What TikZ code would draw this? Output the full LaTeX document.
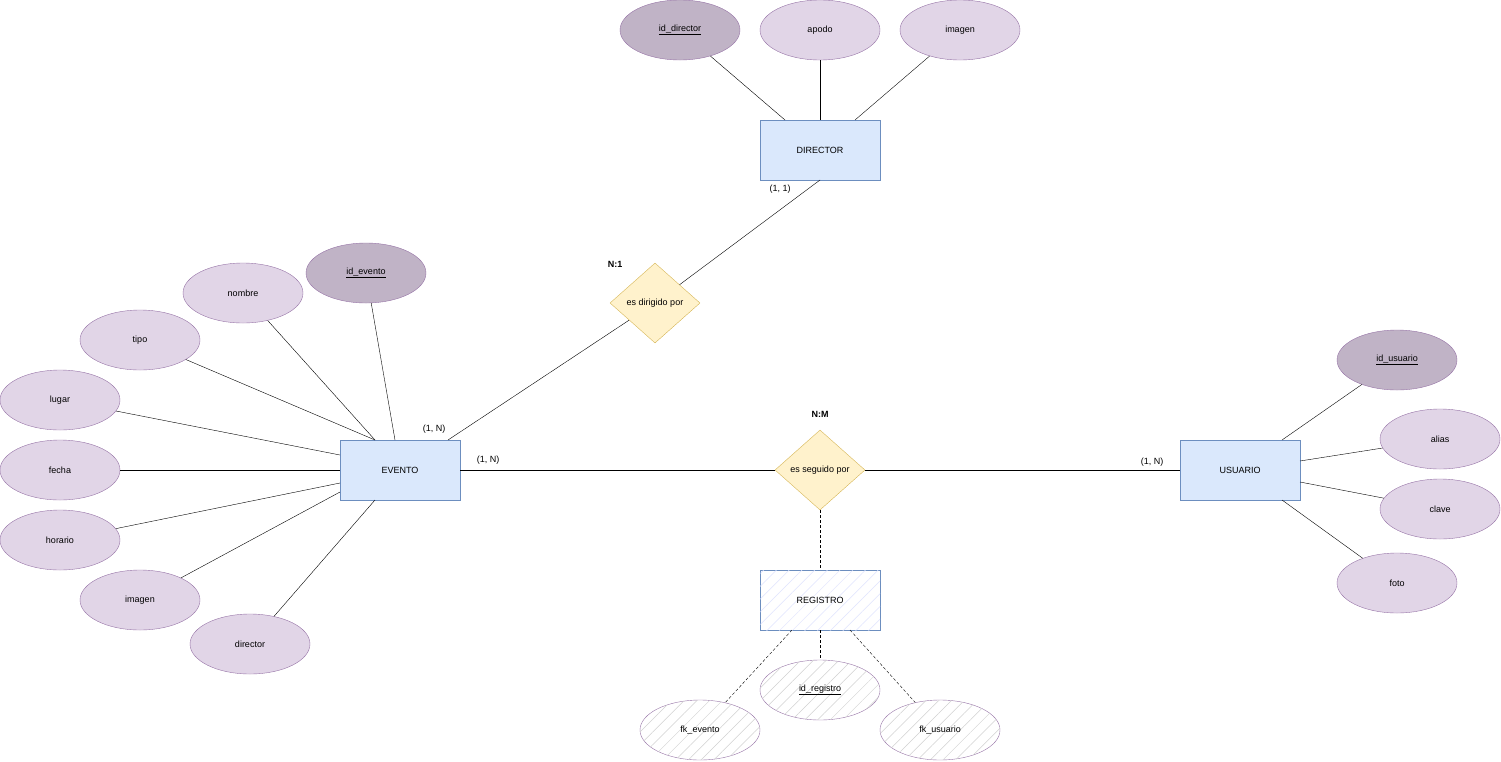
\documentclass[tikz,border=0pt]{standalone}
\usepackage{fontspec}
\setmainfont{Liberation Sans}
\usetikzlibrary{shapes.geometric,patterns.meta}
\definecolor{attrf}{HTML}{E1D5E7}\definecolor{attrd}{HTML}{9673A6}
\definecolor{keyf}{HTML}{C0B3C6}
\definecolor{entf}{HTML}{DAE8FC}\definecolor{entd}{HTML}{6C8EBF}
\definecolor{relf}{HTML}{FFF2CC}\definecolor{reld}{HTML}{D6B656}
\begin{document}
\begin{tikzpicture}[x=1pt,y=-1pt,font=\fontsize{9}{11}\selectfont,
 attr/.style={ellipse,draw=attrd,fill=attrf,minimum width=120pt,minimum height=60pt,inner sep=0pt},
 key/.style={attr,fill=keyf},
 ent/.style={rectangle,draw=entd,fill=entf,minimum width=120pt,minimum height=60pt},
 rel/.style={diamond,draw=reld,fill=relf,minimum width=90pt,minimum height=80pt,inner sep=0pt,aspect=1.1},
 hatch/.style={fill=white,postaction={pattern={Lines[angle=45,distance=9pt,line width=0.5pt]},pattern color=#1}},
 weakattr/.style={attr,hatch=black!18},
 weakent/.style={ent,hatch=entf!80!blue!40},
 ln/.style={draw=black},
 dl/.style={draw=black,densely dashed},
 lbl/.style={inner sep=1pt}]
\useasboundingbox (0,0) rectangle (1501,761);
\node[ent] (evento) at (400,470) {EVENTO};
\node[ent] (director) at (820,150) {DIRECTOR};
\node[ent] (usuario) at (1240,470) {USUARIO};
\node[weakent] (registro) at (820,600) {REGISTRO};
\node[rel] (dirigido) at (655,303) {es dirigido por};
\node[rel] (seguido) at (820,470) {es seguido por};
\node[key] (iddir) at (680,30) {\underline{id\_director}};
\node[attr] (apodo) at (820,30) {apodo};
\node[attr] (imgd) at (960,30) {imagen};
\node[key] (idev) at (366,273) {\underline{id\_evento}};
\node[attr] (nombre) at (243,293) {nombre};
\node[attr] (tipo) at (140,340) {tipo};
\node[attr] (lugar) at (60,400) {lugar};
\node[attr] (fecha) at (60,470) {fecha};
\node[attr] (horario) at (60,540) {horario};
\node[attr] (imge) at (140,600) {imagen};
\node[attr] (dire) at (250,644) {director};
\node[key] (idus) at (1397,360) {\underline{id\_usuario}};
\node[attr] (alias) at (1440,439) {alias};
\node[attr] (clave) at (1440,509) {clave};
\node[attr] (foto) at (1397,583) {foto};
\node[weakattr] (idreg) at (820,690) {\underline{id\_registro}};
\node[weakattr] (fkev) at (700,730) {fk\_evento};
\node[weakattr] (fkus) at (940,730) {fk\_usuario};
\coordinate (d1) at (785,120);\coordinate (d2) at (820,120);\coordinate (d3) at (855,120);
\draw[ln] (iddir) -- (d1); \draw[ln] (apodo) -- (d2); \draw[ln] (imgd) -- (d3);
\coordinate (e0) at (395,440);\coordinate (e1) at (375,440);\coordinate (e2) at (340,455);
\coordinate (e3) at (340,470);\coordinate (e4) at (340,483);\coordinate (e5) at (340,492);\coordinate (e6) at (375,500);
\draw[ln] (idev) -- (e0); \draw[ln] (nombre) -- (e1); \draw[ln] (tipo) -- (e1);
\draw[ln] (lugar) -- (e2); \draw[ln] (fecha) -- (e3); \draw[ln] (horario) -- (e4);
\draw[ln] (imge) -- (e5); \draw[ln] (dire) -- (e6);
\coordinate (u1) at (1282,440);\coordinate (u2) at (1300,461);\coordinate (u3) at (1300,482);\coordinate (u4) at (1282,500);
\draw[ln] (idus) -- (u1); \draw[ln] (alias) -- (u2); \draw[ln] (clave) -- (u3); \draw[ln] (foto) -- (u4);
\coordinate (ev1) at (448,440);\coordinate (dr1) at (820,180);
\draw[ln] (ev1) -- (dirigido); \draw[ln] (dirigido) -- (dr1);
\draw[ln] (evento) -- (seguido); \draw[ln] (seguido) -- (usuario);
\draw[dl] (seguido) -- (registro);
\coordinate (r1) at (792,630);\coordinate (r2) at (850,630);
\draw[dl] (r1) -- (fkev); \draw[dl] (registro) -- (idreg); \draw[dl] (r2) -- (fkus);
\node[lbl] (l1) at (780,189) {(1, 1)};
\node[lbl] (l2) at (434,429) {(1, N)};
\node[lbl] (l3) at (488,460) {(1, N)};
\node[lbl] (l4) at (1152,462) {(1, N)};
\node[lbl,font=\fontsize{9}{11}\selectfont\bfseries] (n1) at (615,264) {N:1};
\node[lbl,font=\fontsize{9}{11}\selectfont\bfseries] (n2) at (820,414) {N:M};
\end{tikzpicture}
\end{document}
